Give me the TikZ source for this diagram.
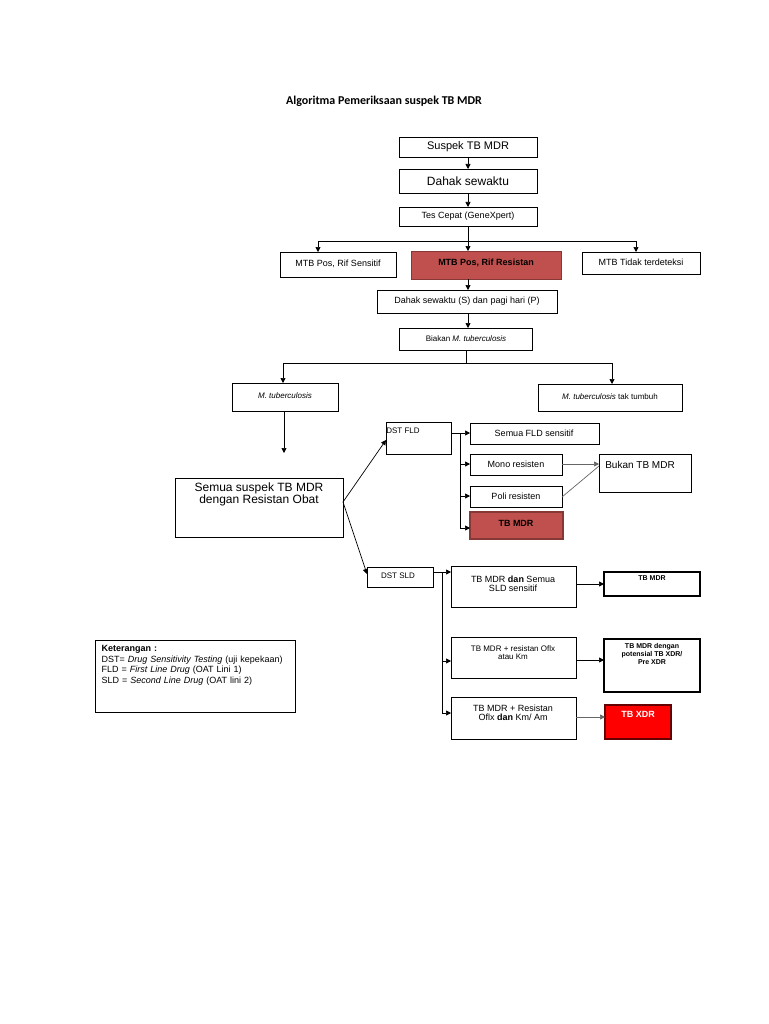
\documentclass[tikz,border=0pt]{standalone}
\usepackage{fontspec}
\setmainfont{Liberation Sans}
\newfontfamily\calib{Carlito}
\usetikzlibrary{arrows.meta}
\definecolor{dred}{HTML}{C0504D}
\begin{document}
\begin{tikzpicture}[x=1pt,y=-1pt,
 bx/.style={draw,line width=0.8pt,inner sep=0pt},
 ar/.style={line width=0.7pt,-{Triangle[length=5pt,width=5pt]}},
 ln/.style={line width=0.7pt},
 t/.style={font=\fontsize{#1}{#1}\selectfont,align=center},
 t/.default=9]
\useasboundingbox[fill=white] (0,0) rectangle (768,1024);
\node[font=\calib\bfseries\fontsize{12}{12}\selectfont] (title) at (384,101) {Algoritma Pemeriksaan suspek TB MDR};
\newcommand\bxn[7]{\draw[#6] (#2,#3) rectangle (#4,#5); \node[t] (#1) at ({(#2+#4)/2},{(#3+#5)/2}) {#7};}
% top column
\draw[bx] (399,137) rectangle (537,157) coordinate (a2); \node[t=11] (a) at (468,147) {Suspek TB MDR};
\draw[bx] (399,169) rectangle (537,193); \node[t=12] (b) at (468,181) {Dahak sewaktu};
\draw[bx] (399,207) rectangle (537,226); \node[t=9] (c) at (468,216) {Tes Cepat (GeneXpert)};
\coordinate (aB) at (468,157); \coordinate (bT) at (468,169); \coordinate (bB) at (468,193); \coordinate (cT) at (468,207); \coordinate (cB) at (468,226);
\draw[ar] (aB) -- (bT); \draw[ar] (bB) -- (cT);
\draw[bx] (280,252) rectangle (396,277); \node[t=9] (d1) at (338,264) {MTB Pos, Rif Sensitif};
\draw[bx,fill=dred,draw=dred!70!black] (411,251) rectangle (561,279); \node[t=9,font=\bfseries\fontsize{9}{9}\selectfont] (d2) at (486,263) {MTB Pos, Rif Resistan};
\draw[bx] (582,252) rectangle (700,274); \node[t=9] (d3) at (641,262) {MTB Tidak terdeteksi};
\coordinate (j1) at (468,241); \coordinate (jl) at (318,241); \coordinate (jr) at (636,241);
\draw[ln] (cB) -- (j1); \draw[ln] (jl) -- (jr);
\draw[ar] (jl) -- (318,252); \draw[ar] (j1) -- (468,251); \draw[ar] (jr) -- (636,252);
\draw[bx] (377,290) rectangle (557,313); \node[t=9] (e) at (467,301) {Dahak sewaktu (S) dan pagi hari (P)};
\draw[ar] (468,279) -- (468,290);
\draw[bx] (399,328) rectangle (532,350); \node[t=8] (f) at (466,339) {Biakan \textit{M. tuberculosis}};
\draw[ar] (468,313) -- (468,328);
\draw[ln] (466,350) -- (466,363); \draw[ln] (283,363) -- (612,363);
\draw[bx] (232,383) rectangle (338,411); \node[t=8] (g1) at (285,396) {\textit{M. tuberculosis}};
\draw[bx] (538,384) rectangle (682,411); \node[t=8] (g2) at (610,397) {\textit{M. tuberculosis} tak tumbuh};
\draw[ar] (283,363) -- (283,383); \draw[ar] (612,363) -- (612,384);
\draw[ar] (284,411) -- (284,453);
% semua suspek
\draw[bx] (175,478) rectangle (343,537); \node[t=12] (h) at (259,494) {Semua suspek TB MDR\\dengan Resistan Obat};
\coordinate (hR) at (343,502);
% DST FLD
\draw[bx] (386,422) rectangle (451,454); \node[t=8] (i) at (403,431) {DST FLD};
\draw[ar] (hR) -- (386,440);
\draw[bx] (470,423) rectangle (599,444); \node[t=9] (i1) at (534,433) {Semua FLD sensitif};
\draw[bx] (470,454) rectangle (562,475); \node[t=9] (i2) at (516,464) {Mono resisten};
\draw[bx] (470,486) rectangle (562,507); \node[t=9] (i3) at (516,496) {Poli resisten};
\draw[bx,fill=dred,draw=dred!70!black,line width=1.2pt] (470,512) rectangle (563,539); \node[font=\bfseries\fontsize{9}{9}\selectfont] (i4) at (516,523) {TB MDR};
\draw[ln] (451,433) -- (460,433) -- (460,528);
\draw[ar] (460,433) -- (470,433); \draw[ar] (460,464) -- (470,464); \draw[ar] (460,496) -- (470,496); \draw[ar] (460,528) -- (470,528);
\draw[bx] (599,454) rectangle (691,492); \node[t=10] (k) at (640,465) {Bukan TB MDR};
\draw[ar,black!60] (562,464) -- (599,464); \draw[ln,black!60] (562,497) -- (599,466);
% DST SLD
\draw[bx] (367,567) rectangle (433,587); \node[t=8] (l) at (398,576) {DST SLD};
\draw[ar] (hR) -- (367,574);
\draw[ln] (433,572) -- (442,572) -- (442,713);
\draw[ar] (442,572) -- (451,572); \draw[ar] (442,661) -- (451,661); \draw[ar] (442,713) -- (451,713);
\draw[bx] (451,566) rectangle (576,607); \node[t=9] (m1) at (513,584) {TB MDR \textbf{dan} Semua\\SLD sensitif};
\draw[bx] (451,637) rectangle (576,678); \node[t=8] (m2) at (513,653) {TB MDR + resistan Oflx\\atau Km};
\draw[bx] (451,697) rectangle (576,739); \node[t=9] (m3) at (513,713) {TB MDR + Resistan\\Oflx \textbf{dan} Km/ Am};
\draw[bx,line width=2pt] (604,572) rectangle (700,596); \node[font=\bfseries\fontsize{7}{7}\selectfont] (n1) at (652,578) {TB MDR};
\draw[bx,line width=2pt] (604,639) rectangle (700,692); \node[font=\bfseries\fontsize{7}{8}\selectfont,align=center] (n2) at (652,654) {TB MDR dengan\\potensial TB XDR/\\Pre XDR};
\draw[bx,line width=2.5pt,fill=red,draw=red!40!black] (605,705) rectangle (671,739); \node[font=\bfseries\fontsize{9}{9}\selectfont,text=white] (n3) at (638,714) {TB XDR};
\draw[ar] (576,584) -- (604,584); \draw[ar] (576,660) -- (604,660); \draw[ar,black!60] (576,717) -- (605,717);
% keterangan
\draw[bx] (95,640) rectangle (295,712);
\node[anchor=north west,align=left,font=\fontsize{9}{10.5}\selectfont,text width=195pt] (ket) at (98,642) {\textbf{Keterangan :}\\DST= \textit{Drug Sensitivity Testing} (uji kepekaan)\\FLD = \textit{First Line Drug} (OAT Lini 1)\\SLD = \textit{Second Line Drug} (OAT lini 2)};
\end{tikzpicture}
\end{document}
